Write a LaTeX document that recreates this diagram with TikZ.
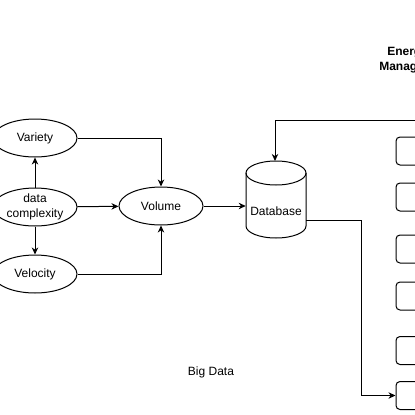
\documentclass[tikz,border=0pt]{standalone}
\usepackage{fontspec}
\setmainfont{Liberation Sans}
\usetikzlibrary{shapes.geometric,arrows.meta}
\begin{document}
\begin{tikzpicture}[x=0.75pt,y=-0.75pt,
  every node/.style={font=\fontsize{9}{11.25}\selectfont},
  ell/.style={ellipse,draw,line width=0.75pt,minimum width=63pt,minimum height=28.5pt,inner sep=0pt,align=center},
  rbox/.style={draw,line width=0.75pt,rounded corners=3pt,minimum width=60pt,minimum height=21pt},
  conn/.style={line width=0.75pt},
  arr/.style={conn,-{Stealth[length=5.25pt,width=4.8pt,inset=1.6pt]}}]
\useasboundingbox (0,0) rectangle (415,415);
\fill[white] (0,0) rectangle (415,415);
% ellipses
\node[ell] (var) at (35,138) {Variety};
\node[ell] (dc) at (35,207) {data\\complexity};
\node[ell] (vel) at (35,274) {Velocity};
\node[ell] (vol) at (161,206) {Volume};
% database cylinder
\node[minimum width=45pt,minimum height=57.75pt,inner sep=0pt] (db) at (276,199.5) {};
\draw[conn] (246,173) -- (246,226) arc[start angle=180,end angle=0,x radius=30,y radius=12] -- (306,173);
\draw[conn] (276,173) ellipse[x radius=30,y radius=12];
\node at (276,211) {Database};
% right boxes
\node[rbox] (b1) at (436,151) {};
\node[rbox] (b2) at (436,197) {};
\node[rbox] (b3) at (436,249) {};
\node[rbox] (b4) at (436,296) {};
\node[rbox] (b5) at (436,350.5) {};
\node[rbox] (b6) at (436,395.5) {};
% texts
\node[font=\bfseries\fontsize{9}{11.25}\selectfont,anchor=west,inner sep=0pt] (en) at (387,53) {Energy};
\node[font=\bfseries\fontsize{9}{11.25}\selectfont,anchor=west,inner sep=0pt] (mg) at (379,68) {Management};
\node (bd) at (211,372) {Big Data};
% connectors
\draw[arr] (dc) -- (var);
\draw[arr] (dc) -- (vel);
\draw[arr] (dc) -- (vol);
\draw[arr] (var) -| (vol);
\draw[arr] (vel) -| (vol);
\draw[arr] (vol.east) -- (vol.east -| db.west);
\coordinate (topin) at (425,120);
\coordinate (dbtop) at (275,161);
\draw[arr] (topin) -- (275,120) -- (dbtop);
\coordinate (dbr) at (306,220);
\draw[arr] (dbr) -- (361,220) |- (b6.west);
\end{tikzpicture}
\end{document}
